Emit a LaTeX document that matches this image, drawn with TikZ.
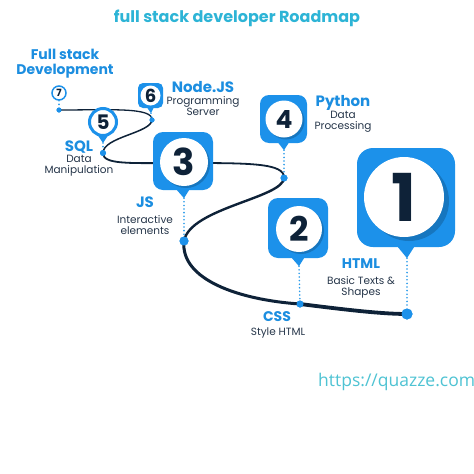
\documentclass[tikz,border=0pt]{standalone}
\usepackage{fontspec}
\setmainfont{Poppins}
\newfontfamily\urlfont{Open Sans}
\usetikzlibrary{calc}
\definecolor{bblue}{HTML}{1C91EA}
\definecolor{navy}{HTML}{0E2238}
\definecolor{lblue}{HTML}{1C8EE0}
\definecolor{txt}{HTML}{26364A}
\definecolor{ttl}{HTML}{2DB4D6}
\definecolor{urlc}{HTML}{4EC3D3}
\definecolor{dotc}{HTML}{2A9BEA}
\tikzset{
  sqbadge/.style={fill=bblue,draw=none,inner sep=0pt},
  whitecirc/.style={circle,fill=white,draw=none,inner sep=0pt,text=navy,font=\bfseries},
  shade/.style={circle,fill=black,opacity=0.18,draw=none,inner sep=0pt},
  cdot/.style={circle,fill=bblue,draw=none,inner sep=0pt},
  dotline/.style={dotc,line width=1.8pt,dash pattern=on 0pt off 3.6pt,line cap=round},
  road/.style={navy,line cap=round},
  lbl/.style={text=lblue,font=\bfseries,inner sep=0pt},
  desc/.style={text=txt,inner sep=0pt,align=center,font=\fontsize{10.5}{13}\selectfont}
}
\begin{document}
\begin{tikzpicture}[x=1pt,y=-1pt]
\useasboundingbox (0,0) rectangle (474,474);
\fill[white] (0,0) rectangle (474,474);

% title and url
\node[text=ttl,font=\fontsize{16}{18}\selectfont\bfseries] (title) at (237,18) {full stack developer Roadmap};
\node[text=urlc,font=\urlfont\fontsize{17.5}{19}\selectfont,anchor=west,inner sep=0pt] (url) at (318,382) {https://quazze.com};

% dots on the road
\node[cdot,minimum size=11pt] (d1) at (407,314) {};
\node[cdot,minimum size=7pt] (d2) at (300,304) {};
\node[cdot,minimum size=9pt] (d3) at (184,241) {};
\node[cdot,minimum size=7pt] (d4) at (284,178) {};
\node[cdot,minimum size=6pt] (d5) at (103,153) {};
\node[cdot,minimum size=5pt] (d6) at (152,120) {};
\node[cdot,minimum size=5pt] (d7) at (59,110) {};

% road
\draw[road,line width=1.3pt] (d7.center) .. controls (110,110) and (153,107) .. (d6.center);
\draw[road,line width=1.5pt] (d6.center) .. controls (151,133) and (103,137) .. (d5.center);
\draw[road,line width=1.8pt] (d5.center) .. controls (103,165) and (130,163) .. (183,163) .. controls (250,163) and (285,163) .. (d4.center);
\draw[road,line width=2.4pt] (d4.center) .. controls (283,198) and (190,208) .. (d3.center);
\draw[road,line width=3pt] (d3.center) .. controls (180,280) and (240,300) .. (d2.center);
\draw[road,line width=3.8pt] (d2.center) .. controls (340,309) and (380,314) .. (d1.center);
% redraw dots on top
\foreach \d/\s in {d1/11,d2/7,d3/9,d4/7,d5/6,d6/5,d7/5}
  \fill[bblue] (\d) circle[radius=\s/2];

% badge 1
\node[sqbadge,minimum width=98pt,minimum height=99pt,rounded corners=16pt] (b1) at (406,197.5) {};
\fill[bblue] ([xshift=-8pt]b1.south) -- ([xshift=8pt]b1.south) -- ([xshift=1pt,yshift=-11pt]b1.south) coordinate (t1) -- cycle;
\node[shade,minimum size=80pt] at (409,201) {};
\node[whitecirc,minimum size=80pt,font=\fontsize{66}{66}\selectfont\bfseries] (c1) at (404,197) {1};

% badge 2
\node[sqbadge,minimum width=60pt,minimum height=60pt,rounded corners=10pt] (b2) at (298,228) {};
\fill[bblue] ([xshift=-6pt]b2.south) -- ([xshift=6pt]b2.south) -- ([xshift=1pt,yshift=-8pt]b2.south) coordinate (t2) -- cycle;
\node[shade,minimum size=46pt] at (301,231) {};
\node[whitecirc,minimum size=46pt,font=\fontsize{34}{34}\selectfont\bfseries] (c2) at (299,229) {2};

% badge 3
\node[sqbadge,minimum width=60pt,minimum height=58pt,rounded corners=10pt] (b3) at (183,161) {};
\fill[bblue] ([xshift=-6pt]b3.south) -- ([xshift=6pt]b3.south) -- ([xshift=1pt,yshift=-8pt]b3.south) coordinate (t3) -- cycle;
\node[shade,minimum size=48pt] at (186,164) {};
\node[whitecirc,minimum size=48pt,font=\fontsize{37}{37}\selectfont\bfseries] (c3) at (184,162) {3};

% badge 4
\node[sqbadge,minimum width=47pt,minimum height=48pt,rounded corners=9pt] (b4) at (283.5,119) {};
\fill[bblue] ([xshift=-5pt]b4.south) -- ([xshift=5pt]b4.south) -- ([xshift=0.5pt,yshift=-7pt]b4.south) coordinate (t4) -- cycle;
\node[shade,minimum size=37pt] at (286,121) {};
\node[whitecirc,minimum size=37pt,font=\fontsize{25}{25}\selectfont\bfseries] (c4) at (284,119) {4};

% badge 5
\fill[bblue] (97,134) -- (109,134) -- (103,143) coordinate (t5) -- cycle;
\node[circle,fill=white,draw=bblue,line width=3pt,minimum size=27pt,inner sep=0pt,text=navy,font=\fontsize{20}{20}\selectfont\bfseries] (c5) at (103,122) {5};

% badge 6
\node[sqbadge,minimum width=25pt,minimum height=25pt,rounded corners=5pt] (b6) at (150.5,95.5) {};
\fill[bblue] ([xshift=-3pt]b6.south) -- ([xshift=3pt]b6.south) -- ([xshift=0.5pt,yshift=-5pt]b6.south) coordinate (t6) -- cycle;
\node[whitecirc,minimum size=20pt,font=\fontsize{18}{18}\selectfont\bfseries] (c6) at (150.5,95.5) {6};

% badge 7
\node[circle,fill=white,draw=bblue,line width=1.5pt,minimum size=14pt,inner sep=0pt,text=navy,font=\fontsize{10}{10}\selectfont\bfseries] (c7) at (59,93) {7};

% dotted drops
\draw[dotline] (t1) -- (d1);
\draw[dotline] (t2) -- (d2);
\draw[dotline] (t3) -- (d3);
\draw[dotline] (t4) -- (d4);
\draw[dotline] (t5) -- (d5);
\draw[dotline] (t6) -- (d6);
\draw[dotline] (c7.south) -- (d7);

% labels
\node[lbl,font=\fontsize{14}{16}\selectfont\bfseries,align=center] (l7) at (65,64) {Full stack\\[-1pt]Development};
\node[lbl,font=\fontsize{15}{16}\selectfont\bfseries] (l6) at (203,87) {Node.JS};
\node[desc] (e6) at (203,106) {Programming\\[-2pt]Server};
\node[lbl,font=\fontsize{15}{16}\selectfont\bfseries] (l4) at (343,103) {Python};
\node[desc] (e4) at (343,122) {Data\\[-2pt]Processing};
\node[lbl,font=\fontsize{15}{16}\selectfont\bfseries] (l5) at (79,147) {SQL};
\node[desc] (e5) at (79,166) {Data\\[-2pt]Manipulation};
\node[lbl,font=\fontsize{15}{16}\selectfont\bfseries] (l3) at (145,202) {JS};
\node[desc] (e3) at (145,225) {Interactive\\[-2pt]elements};
\node[lbl,font=\fontsize{14}{16}\selectfont\bfseries] (l1) at (361,264) {HTML};
\node[desc] (e1) at (361,287) {Basic Texts \&\\[-2pt]Shapes};
\node[lbl,font=\fontsize{14}{16}\selectfont\bfseries] (l2) at (277,317) {CSS};
\node[desc] (e2) at (278,333) {Style HTML};
\end{tikzpicture}
\end{document}
